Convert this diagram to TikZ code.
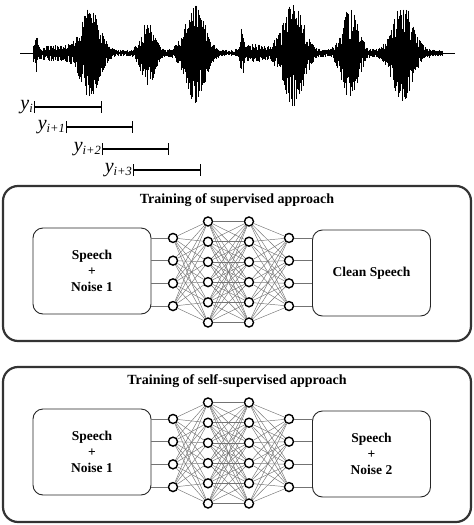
\documentclass[tikz,border=0pt]{standalone}
\usepackage{fontspec}
\setmainfont{Liberation Serif}
\usepackage{tikz}
\usetikzlibrary{arrows.meta,positioning}

\tikzset{
  panel/.style={draw=black!80, line width=2.2pt, rounded corners=15pt},
  paneltitle/.style={font=\fontsize{14}{16}\selectfont\bfseries},
  iobox/.style={draw=black!85, line width=0.9pt, rounded corners=10pt, minimum width=118pt, minimum height=86pt, align=center, font=\fontsize{13.5}{16}\selectfont\bfseries},
  neuron/.style={draw, circle, line width=1.4pt, minimum size=9pt, inner sep=0pt, fill=white},
  link/.style={draw=black!55, line width=0.45pt},
  wave/.style={line width=1pt},
  ylab/.style={anchor=east, inner sep=1pt, font=\fontsize{20}{20}\selectfont\itshape},
  span/.style={line width=1.3pt, {Bar[width=12pt]}-{Bar[width=12pt]}},
  declare function={bump(\x,\c,\w)=exp(-1*pow(min(abs((\x-\c)/\w),5),2));}
}
\newcommand{\sub}[1]{\raisebox{-0.35ex}{\fontsize{12.5}{12.5}\selectfont\itshape #1}}

\begin{document}
\begin{tikzpicture}[x=1pt, y=-1pt]
  \useasboundingbox (0,0) rectangle (474,525);

  % speech waveform
  \draw[line width=0.7pt] (20,53) -- (455,53);
  \pgfmathsetseed{17}
  \foreach \x in {33,33.6,...,443} {
    \pgfmathsetmacro\env{3+5*bump(\x,55,22)+16*bump(\x,36,2)+42*bump(\x,90,13)
      +30*bump(\x,148,9)+46*bump(\x,195,13)+6*bump(\x,255,15)+20*bump(\x,242,2)
      +48*bump(\x,293,14)+42*bump(\x,350,11)+45*bump(\x,403,14)}
    \pgfmathsetmacro\up{\env*(0.3+0.7*rnd)}
    \pgfmathsetmacro\dn{1.05*\env*(0.3+0.7*rnd)}
    \draw[wave] (\x,53-\up) -- (\x,53+\dn);
  }

  % frames
  \node[ylab] (y0) at (34,107) {y\sub{i}};
  \node[ylab] (y1) at (66,127) {y\sub{i+1}};
  \node[ylab] (y2) at (102,149) {y\sub{i+2}};
  \node[ylab] (y3) at (133,170) {y\sub{i+3}};
  \draw[span] (y0.east) -- ++(68,0);
  \draw[span] (y1.east) -- ++(67,0);
  \draw[span] (y2.east) -- ++(67,0);
  \draw[span] (y3.east) -- ++(68,0);

  % two training panels
  \foreach \p/\yo/\ttl/\outtxt in {a/0/{Training of supervised approach}/{Clean Speech},
                                   b/181/{Training of self-supervised approach}/{Speech\\+\\Noise 2}} {
    \draw[panel] (3,186+\yo) rectangle (471,341+\yo);
    \node[paneltitle] (\p-title) at (237,200+\yo) {\ttl};
    \node[iobox] (\p-in) at (92,271+\yo) {Speech\\+\\Noise 1};
    \node[iobox] (\p-out) at (371.5,273+\yo) {\outtxt};
    \foreach \l/\n/\lx/\sp in {1/4/173/22.7, 2/6/208/20.2, 3/6/249/20.2, 4/4/289/22.7}
      \foreach \j in {1,...,\n}
        \node[neuron] (\p-\l-\j) at (\lx,{272+\yo+(\j-(\n+1)/2)*\sp}) {};
    \foreach \j in {1,...,4} {
      \draw[link] (\p-in.east |- \p-1-\j) -- (\p-1-\j);
      \draw[link] (\p-4-\j) -- (\p-out.west |- \p-4-\j);
      \foreach \k in {1,...,6} {
        \draw[link] (\p-1-\j) -- (\p-2-\k);
        \draw[link] (\p-4-\j) -- (\p-3-\k);
      }
    }
    \foreach \j in {1,...,6}
      \foreach \k in {1,...,6}
        \draw[link] (\p-2-\j) -- (\p-3-\k);
  }
\end{tikzpicture}
\end{document}
